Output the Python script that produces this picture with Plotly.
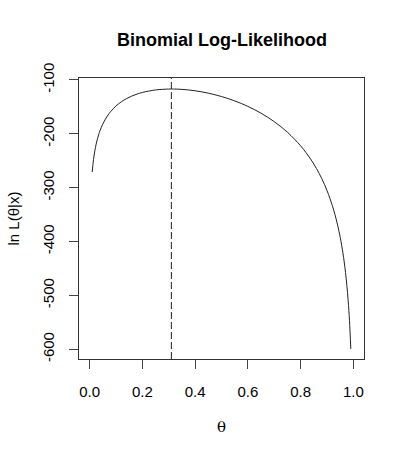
import plotly.graph_objects as go

# theta grid and log-likelihood values
theta = [0.01, 0.015, 0.02, 0.025, 0.03, 0.035, 0.04, 0.05, 0.06, 0.07, 0.08,
         0.10, 0.12, 0.14, 0.16, 0.18, 0.20, 0.25, 0.30, 0.31, 0.35, 0.40,
         0.45, 0.50, 0.55, 0.60, 0.65, 0.70, 0.75, 0.80, 0.82, 0.84, 0.86,
         0.88, 0.90, 0.92, 0.93, 0.94, 0.95, 0.96, 0.965, 0.97, 0.975, 0.98,
         0.985, 0.99]
loglik = [-270.71, -247.65, -231.48, -219.09, -209.09, -200.75, -193.61,
          -181.92, -172.63, -165.00, -158.60, -148.40, -140.65, -134.62,
          -129.87, -126.11, -123.16, -118.50, -116.80, -116.75, -117.42,
          -120.01, -124.43, -130.66, -138.78, -149.00, -161.68, -177.38,
          -197.05, -222.28, -234.53, -248.44, -264.42, -283.11, -305.50,
          -333.22, -349.95, -369.36, -392.44, -420.84, -437.90, -457.63,
          -481.03, -509.74, -546.85, -599.26]
mle = 0.31
x_ticks = [0.0, 0.2, 0.4, 0.6, 0.8, 1.0]
x_ticklabels = ["0.0", "0.2", "0.4", "0.6", "0.8", "1.0"]
y_ticks = [-600, -500, -400, -300, -200, -100]
y_ticklabels = ["-600", "-500", "-400", "-300", "-200", "-100"]

FONT = "Liberation Sans, Arial, sans-serif"

fig = go.Figure()
fig.add_trace(go.Scatter(x=theta, y=loglik, mode="lines",
                         line=dict(color="#222222", width=1, shape="spline"),
                         hoverinfo="skip", showlegend=False))
fig.add_shape(type="line", xref="x", yref="paper", x0=mle, x1=mle, y0=0, y1=1,
              line=dict(color="#222222", width=1, dash="7px,3px"))

fig.update_layout(
    width=405, height=457,
    margin=dict(l=79, r=41, t=78, b=98),
    plot_bgcolor="white", paper_bgcolor="white",
    font=dict(family=FONT, size=15, color="black"),
    showlegend=False,
)
fig.update_xaxes(range=[-0.04, 1.04], tickmode="array", tickvals=x_ticks,
                 ticktext=x_ticklabels, ticks="outside", ticklen=9,
                 tickcolor="#444", showline=True, linecolor="#333", linewidth=1,
                 mirror=True, showgrid=False, zeroline=False,
                 ticklabelstandoff=10,
                 tickfont=dict(family=FONT, size=15))
fig.update_yaxes(range=[-618, -96.3], tickmode="array", tickvals=y_ticks,
                 ticktext=y_ticklabels, ticks="outside", ticklen=9,
                 tickcolor="#444", showline=True, linecolor="#333", linewidth=1,
                 mirror=True, showgrid=False, zeroline=False, tickangle=-90,
                 ticklabelstandoff=9,
                 tickfont=dict(family=FONT, size=15))

fig.add_annotation(text="<b>Binomial Log-Likelihood</b>", xref="paper", yref="paper",
                   x=0.5, y=1, yshift=38, showarrow=False, yanchor="middle",
                   font=dict(family=FONT, size=18, color="black"))
fig.add_annotation(text="θ", xref="paper", yref="paper", x=0.5, y=0, yshift=-68,
                   showarrow=False, yanchor="middle",
                   font=dict(family="DejaVu Serif, serif", size=15, color="black"))
fig.add_annotation(text="ln L(θ|x)", xref="paper", yref="paper", x=0, y=0.5,
                   xshift=-66, textangle=-90, showarrow=False, xanchor="center",
                   font=dict(family=FONT, size=15, color="black"))

# remove the default 8px page margin so the figure fills the window exactly
fig.write_html("out.html",
               config={"displayModeBar": False},
               post_script="document.body.style.margin='0px';"
                           "document.body.style.overflow='hidden';")
